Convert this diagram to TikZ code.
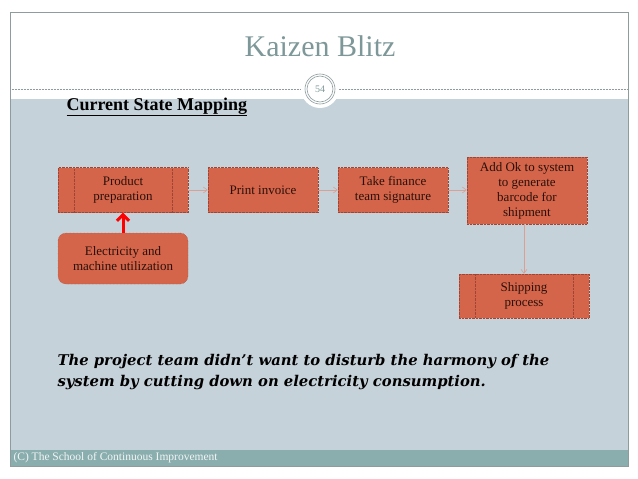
\documentclass[tikz,border=0pt]{standalone}
\usepackage{fontspec}
\setmainfont{Liberation Serif}
\newfontfamily\dvs{DejaVu Serif}
\usetikzlibrary{arrows.meta}
\definecolor{bodyblue}{HTML}{C6D2D9}
\definecolor{footteal}{HTML}{8AADAE}
\definecolor{framegray}{HTML}{8E9C9E}
\definecolor{titlegray}{HTML}{7E9899}
\definecolor{boxfill}{HTML}{D4654B}
\definecolor{boxline}{HTML}{9E4533}
\definecolor{boxtext}{HTML}{2A1008}
\definecolor{conn}{HTML}{D9A196}
\tikzset{
  procbox/.style={draw=boxline, densely dotted, fill=boxfill, text=boxtext, align=center, font=\fontsize{13}{15}\selectfont, inner sep=0pt},
  conn/.style={draw=conn, line width=0.6pt, -{Straight Barb[length=4pt,width=6pt]}},
}
\begin{document}
\begin{tikzpicture}[x=1pt,y=-1pt]
\useasboundingbox (0,0) rectangle (638,479);
\fill[white] (0,0) rectangle (638,479);
% body
\fill[bodyblue] (10,99) rectangle (628,450);
\fill[footteal] (10,450) rectangle (628,466);
\draw[framegray, line width=0.6pt] (10,12) rectangle (628,466);
\draw[framegray, densely dotted, line width=0.5pt] (10,89) -- (628,89);
% title
\node[text=titlegray, font=\fontsize{30}{32}\selectfont] (title) at (320,46) {Kaizen Blitz};
% page number
\fill[white] (320,89) circle (19);
\draw[framegray, line width=0.6pt] (320,89) circle (15);
\draw[framegray, line width=0.6pt] (320,89) circle (13);
\node[text=titlegray, font=\fontsize{10}{12}\selectfont] (pnum) at (320,89) {54};
% subtitle
\node[anchor=west, font=\bfseries\fontsize{18}{20}\selectfont] (sub) at (63,107) {\underline{Current State Mapping}};
% boxes
\node[procbox, minimum width=130pt, minimum height=45pt] (prod) at (123,190) {Product\\preparation};
\draw[boxline, densely dotted] ([xshift=16pt]prod.north west) -- ([xshift=16pt]prod.south west);
\draw[boxline, densely dotted] ([xshift=-16pt]prod.north east) -- ([xshift=-16pt]prod.south east);
\node[procbox, minimum width=110pt, minimum height=45pt] (print) at (263,190) {Print invoice};
\node[procbox, minimum width=110pt, minimum height=45pt] (fin) at (393,190) {Take finance\\team signature};
\node[procbox, minimum width=120pt, minimum height=67pt] (addok) at (527,190.5) {Add Ok to system\\to generate\\barcode for\\shipment};
\node[procbox, minimum width=130pt, minimum height=44pt] (ship) at (524,296) {Shipping\\process};
\draw[boxline, densely dotted] ([xshift=16pt]ship.north west) -- ([xshift=16pt]ship.south west);
\draw[boxline, densely dotted] ([xshift=-16pt]ship.north east) -- ([xshift=-16pt]ship.south east);
\node[procbox, rounded corners=8pt, minimum width=130pt, minimum height=51pt] (elec) at (123,258.5) {Electricity and\\machine utilization};
% connectors
\draw[conn] (prod) -- (print);
\draw[conn] (print) -- (fin);
\draw[conn] (fin.east) -- (addok.west |- fin.east);
\draw[conn] (addok.south -| ship.north) -- (ship.north);
\draw[red, line width=3pt, -{Straight Barb[length=6pt,width=12pt]}] (elec.north) -- (prod.south);
% statement
\node[anchor=north west, align=left, font=\dvs\bfseries\itshape\fontsize{14.8}{21}\selectfont] (stmt) at (54,351) {The project team didn’t want to disturb the harmony of the\\system by cutting down on electricity consumption.};
% footer
\node[anchor=west, text=white!88!footteal, font=\fontsize{11.5}{13}\selectfont] (foot) at (10,458) {(C) The School of Continuous Improvement};
\end{tikzpicture}
\end{document}
